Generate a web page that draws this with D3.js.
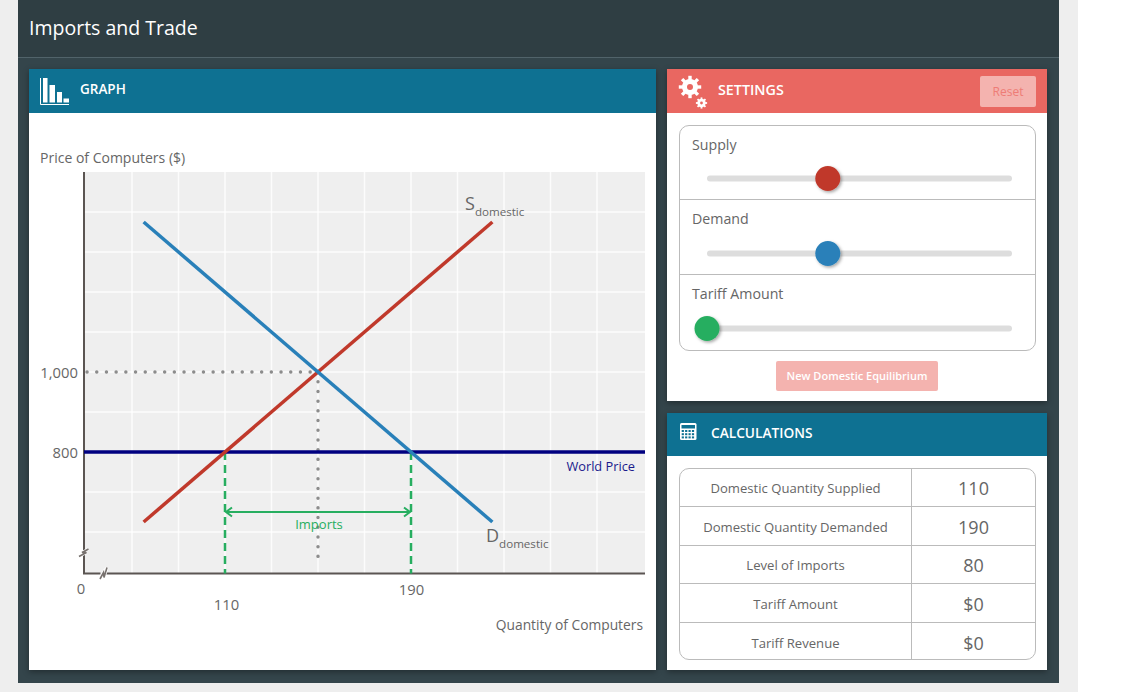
<!DOCTYPE html>
<html>
<head>
<meta charset="utf-8">
<title>Imports and Trade</title>
<script src="https://cdn.jsdelivr.net/npm/d3@7"></script>
<style>
html, body { margin: 0; padding: 0; background: #fff; overflow: hidden; }
body { width: 1133px; height: 692px; position: relative; font-family: "Open Sans", sans-serif; color: #666; }
.abs { position: absolute; box-sizing: border-box; }
#pageBg { left: 0; top: 0; width: 1078px; height: 692px; background: #eee; }
#app { left: 18px; top: 0; width: 1041px; height: 683px; background: #34454b; }
#title { left: 18px; top: 0; width: 1041px; height: 58px; background: #2f3e43; border-bottom: 1px solid #51636a; color: #fff; font-size: 19.5px; line-height: 56px; padding-left: 11px; }
.panel { background: #fff; box-shadow: 0 2px 6px rgba(0,0,0,.35); }
.head { left: 0; top: 0; width: 100%; color: #fff; font-weight: 600; }
#graphPanel { left: 29px; top: 69px; width: 627px; height: 601px; }
#graphPanel .head { height: 44px; line-height: 41px; background: #0e7192; padding-left: 51px; font-size: 13.5px; }
#settingsPanel { left: 667px; top: 69px; width: 380px; height: 332px; }
#settingsPanel .head { height: 44px; line-height: 41px; background: #e96761; padding-left: 51px; font-size: 14.3px; }
#calcPanel { left: 667px; top: 413px; width: 380px; height: 257px; }
#calcPanel .head { height: 43px; line-height: 39px; background: #0e7192; padding-left: 44px; font-size: 13.7px; }
.btn { background: #f4b3af; border-radius: 2px; text-align: center; }
#reset { left: 313px; top: 7px; width: 56px; height: 31px; line-height: 31px; color: #ee7c76; font-size: 12px; font-weight: 400; }
#newEq { left: 109px; top: 292px; width: 162px; height: 30px; line-height: 30px; color: #fff; font-size: 11px; font-weight: 600; }
#sliders { left: 12px; top: 56px; width: 357px; height: 226px; border: 1px solid #bbb; border-radius: 10px; }
.row { left: 0; width: 100%; height: 75px; font-size: 14.2px; padding: 9px 0 0 12px; border-top: 1px solid #bbb; }
.row:first-child { border-top: 0; }
#calcTable { left: 12px; top: 55px; width: 357px; height: 192px; border: 1px solid #bbb; border-radius: 10px; }
.calc { left: 0; width: 100%; border-top: 1px solid #bbb; }
.calc:first-child { border-top: 0; }
.calc .name { left: 0; top: 0; bottom: 0; width: 232px; font-size: 13.1px; text-align: center; border-right: 1px solid #bbb; display: flex; align-items: center; justify-content: center; }
.calc .val { left: 232px; top: 0; bottom: 0; right: 0; font-size: 18px; text-align: center; display: flex; align-items: center; justify-content: center; }
#overlay { left: 0; top: 0; }
#overlay text { font-family: "Open Sans", sans-serif; fill: #666; font-size: 14px; }
#overlay .tick text { font-size: 14.8px; }
</style>
</head>
<body>
<div class="abs" id="pageBg"></div>
<div class="abs" id="app"></div>
<div class="abs" id="title">Imports and Trade</div>
<div class="abs panel" id="graphPanel"><div class="abs head">GRAPH</div></div>
<div class="abs panel" id="settingsPanel">
  <div class="abs head">SETTINGS<div class="abs btn" id="reset">Reset</div></div>
  <div class="abs" id="sliders"></div>
  <div class="abs btn" id="newEq">New Domestic Equilibrium</div>
</div>
<div class="abs panel" id="calcPanel">
  <div class="abs head">CALCULATIONS</div>
  <div class="abs" id="calcTable"></div>
</div>
<svg class="abs" id="overlay" width="1133" height="692"></svg>
<script>
// curves
const supplyQuantity = [75, 225];
const supplyPrice = [625, 1375];
const demandQuantity = [75, 225];
const demandPrice = [1375, 625];
const worldPrice = 800;
const equilibriumQuantity = 150;
const equilibriumPrice = 1000;
const importsFrom = 110;
const importsTo = 190;
const importsArrowPrice = 650;

const priceTicks = [800, 1000];
const quantityTicks = [110, 190];
const priceGrid = [600, 700, 800, 900, 1000, 1100, 1200, 1300, 1400];
const quantityGrid = [70, 90, 110, 130, 150, 170, 190, 210, 230, 250, 270];

const sliderNames = ['Supply', 'Demand', 'Tariff Amount'];
const sliderValues = [40, 40, 0];
const sliderColors = ['#c0392b', '#2980b9', '#27ae60'];

const calcNames = ['Domestic Quantity Supplied', 'Domestic Quantity Demanded', 'Level of Imports', 'Tariff Amount', 'Tariff Revenue'];
const calcValues = ['110', '190', '80', '$0', '$0'];

// scales are in page pixels, the svg lies over the whole page
const x = d3.scaleLinear().domain([110, 190]).range([225, 411]);
const y = d3.scaleLinear().domain([800, 1000]).range([452, 372]);
const plotLeft = 84, plotRight = 645, plotTop = 172, plotBottom = 573.5;

const svg = d3.select('#overlay');
const line = d3.line().x(d => x(d[0])).y(d => y(d[1]));

const defs = svg.append('defs');
const shadow = defs.append('filter').attr('id', 'thumbShadow').attr('x', '-40%').attr('y', '-40%').attr('width', '200%').attr('height', '200%');
shadow.append('feDropShadow').attr('dx', 1.5).attr('dy', 1.5).attr('stdDeviation', 1.5).attr('flood-color', '#000').attr('flood-opacity', 0.35);

svg.append('rect')
  .attr('x', plotLeft).attr('y', plotTop)
  .attr('width', plotRight - plotLeft).attr('height', plotBottom - plotTop)
  .attr('fill', '#efefef');

svg.selectAll('line.gridx')
  .data(quantityGrid)
  .join('line')
  .attr('class', 'gridx')
  .attr('x1', d => x(d)).attr('x2', d => x(d))
  .attr('y1', plotTop).attr('y2', plotBottom)
  .attr('stroke', '#fff').attr('stroke-width', 1.5).attr('stroke-opacity', 0.8);

svg.selectAll('line.gridy')
  .data(priceGrid)
  .join('line')
  .attr('class', 'gridy')
  .attr('x1', plotLeft).attr('x2', plotRight)
  .attr('y1', d => y(d)).attr('y2', d => y(d))
  .attr('stroke', '#fff').attr('stroke-width', 1.5).attr('stroke-opacity', 0.8);

// axes, only the labels come from d3.axis, the lines are drawn with the breaks below
const yAxis = svg.append('g')
  .attr('transform', `translate(${plotLeft - 1},0.5)`)
  .call(d3.axisLeft(y).tickValues(priceTicks).tickSize(0).tickPadding(5).tickFormat(d3.format(',')));
yAxis.select('.domain').remove();

const xAxis = svg.append('g')
  .attr('transform', `translate(0,${plotBottom})`)
  .call(d3.axisBottom(x).tickValues(quantityTicks).tickSize(0).tickFormat(d3.format('d')));
xAxis.select('.domain').remove();
// the tick labels are staggered in the original
xAxis.selectAll('.tick text').attr('y', d => d === 110 ? 26 : 11);
xAxis.selectAll('.tick text').attr('dx', d => d === 110 ? 1 : 0);

const axisColor = '#5b5552';
const axisPath = d3.path();
axisPath.moveTo(plotLeft, plotTop);
axisPath.lineTo(plotLeft, 550);
axisPath.moveTo(plotLeft, 554);
axisPath.lineTo(plotLeft, plotBottom);
axisPath.lineTo(100.5, plotBottom);
axisPath.moveTo(106, plotBottom);
axisPath.lineTo(plotRight, plotBottom);
svg.append('path').attr('d', axisPath.toString()).attr('fill', 'none').attr('stroke', axisColor).attr('stroke-width', 2);
const breaks = ['M88.5,549 L82,552.5 L86.5,552.5 L79,556.5', 'M100,579 L103.5,572.5 L104,577.5 L107,567.5'];
svg.selectAll('path.breakHalo')
  .data(breaks)
  .join('path')
  .attr('class', 'breakHalo')
  .attr('d', d => d)
  .attr('fill', 'none').attr('stroke', '#fff').attr('stroke-width', 3);
svg.selectAll('path.break')
  .data(breaks)
  .join('path')
  .attr('class', 'break')
  .attr('d', d => d)
  .attr('fill', 'none').attr('stroke', '#77716e').attr('stroke-width', 1.6);

svg.append('text').attr('x', 40).attr('y', 162.5).text('Price of Computers ($)');
svg.append('text').attr('x', 643).attr('y', 630).attr('text-anchor', 'end').style('font-size', '13.8px').text('Quantity of Computers');
svg.append('text').attr('x', 81).attr('y', 594).attr('text-anchor', 'middle').style('font-size', '14.8px').text('0');

// dotted equilibrium guides
const dotted = [
  [[x.invert(plotLeft + 3), equilibriumPrice], [equilibriumQuantity, equilibriumPrice]],
  [[equilibriumQuantity, equilibriumPrice], [equilibriumQuantity, y.invert(566)]]
];
svg.selectAll('path.dotted')
  .data(dotted)
  .join('path')
  .attr('class', 'dotted')
  .attr('d', line)
  .attr('fill', 'none').attr('stroke', '#8c8c8c').attr('stroke-width', 3.4)
  .attr('stroke-linecap', 'round').attr('stroke-dasharray', '0.1 9.6');

// dashed import bounds
svg.selectAll('path.bound')
  .data([importsFrom, importsTo])
  .join('path')
  .attr('class', 'bound')
  .attr('d', d => line([[d, worldPrice], [d, y.invert(plotBottom)]]))
  .attr('fill', 'none').attr('stroke', '#27ae60').attr('stroke-width', 2.5).attr('stroke-dasharray', '8 5');

svg.append('path')
  .attr('d', line([[x.invert(x(importsFrom) + 1), importsArrowPrice], [x.invert(x(importsTo) - 1), importsArrowPrice]]))
  .attr('fill', 'none').attr('stroke', '#27ae60').attr('stroke-width', 2);
const ay = y(importsArrowPrice);
svg.selectAll('path.head')
  .data([[x(importsFrom), 1], [x(importsTo), -1]])
  .join('path')
  .attr('class', 'head')
  .attr('d', d => `M${d[0] + d[1] * 7},${ay - 4.5} L${d[0] + d[1]},${ay} L${d[0] + d[1] * 7},${ay + 4.5}`)
  .attr('fill', 'none').attr('stroke', '#27ae60').attr('stroke-width', 2);
svg.append('text').attr('x', x(150) + 1).attr('y', 529).attr('text-anchor', 'middle').style('fill', '#27ae60').style('font-size', '13px').text('Imports');

// world price
svg.append('path')
  .attr('d', line([[x.invert(plotLeft), worldPrice], [x.invert(plotRight), worldPrice]]))
  .attr('stroke', '#000080').attr('stroke-width', 3.5);
svg.append('text').attr('x', 635).attr('y', 471).attr('text-anchor', 'end').style('fill', '#1a1a8c').style('font-size', '12.8px').text('World Price');

// supply and demand
svg.append('path')
  .attr('d', line(d3.zip(supplyQuantity, supplyPrice)))
  .attr('fill', 'none').attr('stroke', '#c0392b').attr('stroke-width', 3.5);
svg.append('path')
  .attr('d', line(d3.zip(demandQuantity, demandPrice)))
  .attr('fill', 'none').attr('stroke', '#2980b9').attr('stroke-width', 3.5);

const curveLabels = [['S', 465, 210], ['D', 486, 542]];
curveLabels.forEach(l => {
  const t = svg.append('text').attr('x', l[1]).attr('y', l[2]).style('font-size', '18px').text(l[0]);
  t.append('tspan').attr('dy', 6).style('font-size', '11.6px').text('domestic');
});

// panel icons
const icons = svg.append('g').attr('fill', '#fff');
icons.append('path').attr('d', 'M40.5,78 V104.5 H69').attr('fill', 'none').attr('stroke', '#fff').attr('stroke-width', 1);
icons.selectAll('rect.bar')
  .data([[43, 78, 4.5], [49.5, 85, 5.5], [57, 92, 5], [63.5, 98.5, 5.5]])
  .join('rect')
  .attr('class', 'bar')
  .attr('x', d => d[0]).attr('y', d => d[1]).attr('width', d => d[2]).attr('height', d => 102.5 - d[1]);

// cx, cy, ring radius, ring width, tooth tip radius, tooth width
const gears = [[690, 87, 5.5, 5, 11.2, 3.4], [701.5, 103, 2.8, 2.8, 5.6, 1.8]];
gears.forEach(g => {
  icons.append('circle').attr('cx', g[0]).attr('cy', g[1]).attr('r', g[2]).attr('fill', 'none').attr('stroke', '#fff').attr('stroke-width', g[3]);
  const teeth = d3.range(8).map(i => i * 45);
  icons.selectAll(null)
    .data(teeth)
    .join('rect')
    .attr('x', g[0] - g[5] / 2).attr('y', g[1] - g[4])
    .attr('width', g[5]).attr('height', g[4] - g[2])
    .attr('transform', d => `rotate(${d} ${g[0]} ${g[1]})`);
});

icons.append('rect').attr('x', 680).attr('y', 423).attr('width', 16.5).attr('height', 17).attr('rx', 1.5);
icons.append('rect').attr('x', 681.5).attr('y', 425).attr('width', 13.5).attr('height', 3.5).attr('fill', '#0e7192');
const keys = d3.cross(d3.range(4), d3.range(3));
icons.selectAll('rect.key')
  .data(keys)
  .join('rect')
  .attr('class', 'key')
  .attr('x', d => 681.7 + d[0] * 3.4).attr('y', d => 430 + d[1] * 3.2)
  .attr('width', 2.2).attr('height', 2).attr('fill', '#0e7192');

// settings sliders
const slider = d3.scaleLinear().domain([0, 100]).range([707, 1009]);
const sliderY = [178.5, 253.5, 328.5];
const sliderRowTops = [0, 73, 148];
d3.select('#sliders').selectAll('div')
  .data(sliderNames)
  .join('div')
  .attr('class', 'abs row')
  .style('top', (d, i) => sliderRowTops[i] + 'px')
  .text(d => d);
svg.selectAll('rect.track')
  .data(sliderY)
  .join('rect')
  .attr('class', 'track')
  .attr('x', 707).attr('y', d => d - 3)
  .attr('width', 305).attr('height', 6).attr('rx', 3)
  .attr('fill', '#ddd');
svg.selectAll('circle.thumb')
  .data(sliderValues)
  .join('circle')
  .attr('class', 'thumb')
  .attr('cx', d => slider(d)).attr('cy', (d, i) => sliderY[i])
  .attr('r', 12.5)
  .attr('fill', (d, i) => sliderColors[i])
  .attr('filter', 'url(#thumbShadow)');

// calculations table
const rowTops = [0, 37, 76, 114, 153, 190];
const rowNudge = [0, 1, 1, 1, 3];
const rows = d3.select('#calcTable').selectAll('div.calc')
  .data(calcNames)
  .join('div')
  .attr('class', 'abs calc')
  .style('top', (d, i) => rowTops[i] + 'px')
  .style('height', (d, i) => (rowTops[i + 1] - rowTops[i]) + 'px');
rows.append('div').attr('class', 'abs name').style('padding-top', (d, i) => rowNudge[i] + 'px').text(d => d);
rows.append('div').attr('class', 'abs val').style('padding-top', (d, i) => rowNudge[i] + 'px').text((d, i) => calcValues[i]);
</script>
</body>
</html>
